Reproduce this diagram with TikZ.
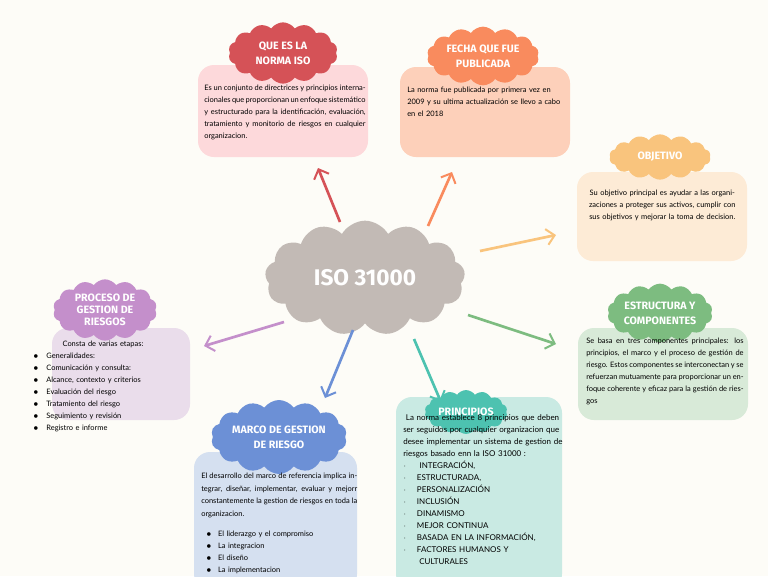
\documentclass[tikz,border=0pt]{standalone}
\usepackage{fontspec}
\setmainfont{Lato}
\newfontfamily\headf{Fira Sans}
\usetikzlibrary{shapes.symbols,arrows.meta}
\definecolor{bg}{HTML}{FDFCF7}
\definecolor{cgray}{HTML}{C2BAB5}
\definecolor{cred}{HTML}{D55257}\definecolor{bred}{HTML}{FDD9DB}
\definecolor{cora}{HTML}{F98B5E}\definecolor{bora}{HTML}{FDD0BA}
\definecolor{cyel}{HTML}{F9C47D}\definecolor{byel}{HTML}{FDEBD6}
\definecolor{cgre}{HTML}{7DBC80}\definecolor{bgre}{HTML}{D8EAD8}
\definecolor{ctea}{HTML}{4DC2B0}\definecolor{btea}{HTML}{C9EAE3}
\definecolor{cblu}{HTML}{6C90D6}\definecolor{bblu}{HTML}{D5E0F0}
\definecolor{cpur}{HTML}{C48FCB}\definecolor{bpur}{HTML}{EADDEB}
\begin{document}
\begin{tikzpicture}[x=0.75pt,y=-0.75pt,
  hdr/.style={cloud,cloud puffs=14,cloud puff arc=110,aspect=2.2,inner sep=0pt,text=white,font=\headf\bfseries\fontsize{8}{11}\selectfont,align=center},
  txt/.style={anchor=north west,font=\fontsize{5.6}{9}\selectfont,align=justify,inner sep=0pt},
  arr/.style={line width=2pt,-{Straight Barb[length=6pt,width=12pt,line width=1.5pt]}}]
\fill[bg] (0,0) rectangle (768,576);
\useasboundingbox (0,0) rectangle (768,576);
% boxes
\fill[bred,rounded corners=12pt] (198,65) rectangle (368,157);
\fill[bora,rounded corners=12pt] (400,67) rectangle (570,157);
\fill[byel,rounded corners=12pt] (577,172) rectangle (747,261);
\fill[bgre,rounded corners=12pt] (578,328) rectangle (748,420);
\fill[btea,rounded corners=12pt] (396,397) rectangle (562,590);
\fill[bblu,rounded corners=12pt] (194,452) rectangle (357,590);
\fill[bpur,rounded corners=12pt] (52,328) rectangle (190,420);
% center
\node[cloud,cloud puffs=13,cloud puff arc=120,aspect=1.75,fill=cgray,minimum width=150,minimum height=86,text=white,font=\headf\bfseries\fontsize{17}{20}\selectfont] (c) at (365,278) {ISO 31000};
% headers
\node[hdr,fill=cred,minimum width=82,minimum height=46] (h1) at (283,53) {QUE ES LA\\NORMA ISO};
\node[hdr,fill=cora,minimum width=84,minimum height=44] (h2) at (483,56) {FECHA QUE FUE\\PUBLICADA};
\node[hdr,fill=cyel,minimum width=76,minimum height=34] (h3) at (660,157) {OBJETIVO};
\node[hdr,fill=cgre,minimum width=78,minimum height=44] (h4) at (660,313) {ESTRUCTURA Y\\COMPONENTES};
\node[hdr,fill=ctea,minimum width=62,minimum height=30] (h5) at (466,412) {PRINCIPIOS};
\node[hdr,fill=cblu,minimum width=84,minimum height=38] (h6) at (279,437) {MARCO DE GESTION\\DE RIESGO};
\node[hdr,fill=cpur,minimum width=78,minimum height=46,font=\headf\bfseries\fontsize{8}{9}\selectfont] (h7) at (105,310) {PROCESO DE\\GESTION DE\\RIESGOS};
% arrows
\coordinate (e1) at (318,168);\coordinate (e2) at (452,172);\coordinate (e3) at (556,235);
\coordinate (e4) at (556,344);\coordinate (e5) at (441,402);\coordinate (e6) at (325,398);\coordinate (e7) at (204,346);
\coordinate (s1) at (340,222);\coordinate (s2) at (428,226);\coordinate (s3) at (480,251);
\coordinate (s4) at (468,315);\coordinate (s5) at (414,339);\coordinate (s6) at (353,330);\coordinate (s7) at (284,322);
\draw[arr,cred] (s1)--(e1);\draw[arr,cora] (s2)--(e2);\draw[arr,cyel] (s3)--(e3);
\draw[arr,cgre] (s4)--(e4);\draw[arr,ctea] (s5)--(e5);\draw[arr,cblu] (s6)--(e6);\draw[arr,cpur] (s7)--(e7);
% texts
\node[txt,text width=121] (t1) at (204,85) {Es un conjunto de directrices y principios internacionales que proporcionan un enfoque sistemático y estructurado para la identificación, evaluación, tratamiento y monitorio de riesgos en cualquier organizacion.};
\node[txt,text width=118,align=left] (t2) at (407,87) {La norma fue publicada por primera vez en 2009 y su ultima actualización se llevo a cabo en el 2018};
\node[txt,text width=120,align=center] (t3) at (582,190) {Su objetivo principal es ayudar a las organizaciones a proteger sus activos, cumplir con sus objetivos y mejorar la toma de decision.};
\node[txt,text width=118] (t4) at (586,338) {Se basa en tres componentes principales: los principios, el marco y el proceso de gestión de riesgo. Estos componentes se interconectan y se refuerzan mutuamente para proporcionar un enfoque coherente y eficaz para la gestión de riesgos};
\node[txt,text width=100,align=left] (t5) at (33,341) {\hspace*{22pt}Consta de varias etapas:\\
$\bullet$\hspace{6pt}Generalidades:\\ $\bullet$\hspace{6pt}Comunicación y consulta:\\ $\bullet$\hspace{6pt}Alcance, contexto y criterios\\ $\bullet$\hspace{6pt}Evaluación del riesgo\\ $\bullet$\hspace{6pt}Tratamiento del riesgo\\ $\bullet$\hspace{6pt}Seguimiento y revisión\\ $\bullet$\hspace{6pt}Registro e informe};
\node[txt,text width=117,font=\fontsize{5.6}{9.4}\selectfont] (t6) at (201,473) {El desarrollo del marco de referencia implica integrar, diseñar, implementar, evaluar y mejorr constantemente la gestion de riesgos en toda la organizacion.};
\node[txt,text width=112,align=left] (t6b) at (206,531) {$\bullet$\hspace{5pt}El liderazgo y el compromiso\\ $\bullet$\hspace{5pt}La integracion\\ $\bullet$\hspace{5pt}El diseño\\ $\bullet$\hspace{5pt}La implementacion};
\node[txt,text width=122,align=left,font=\fontsize{6}{9}\selectfont] (t7) at (403,414) {\hspace*{2pt}La norma establece 8 principios que deben ser seguidos por cualquier organizacion que desee implementar un sistema de gestion de riesgos basado enn la ISO 31000 :\\
$\cdot$\hspace{8pt} INTEGRACIÓN,\\ $\cdot$\hspace{8pt}ESTRUCTURADA,\\ $\cdot$\hspace{8pt}PERSONALIZACIÓN\\ $\cdot$\hspace{8pt}INCLUSIÓN\\ $\cdot$\hspace{8pt}DINAMISMO\\ $\cdot$\hspace{8pt}MEJOR CONTINUA\\ $\cdot$\hspace{8pt}BASADA EN LA INFORMACIÓN,\\ $\cdot$\hspace{8pt}FACTORES HUMANOS Y\\ \hspace*{12pt}CULTURALES};
\end{tikzpicture}
\end{document}
